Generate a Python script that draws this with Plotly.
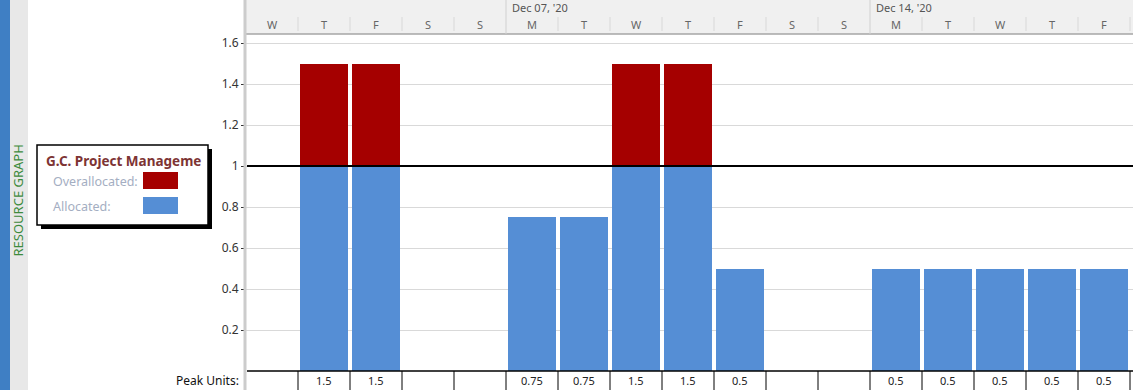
import plotly.graph_objects as go

# ---- data ----
day_labels = ["W", "T", "F", "S", "S", "M", "T", "W", "T", "F", "S", "S", "M", "T", "W", "T", "F"]
allocated = [0, 1, 1, 0, 0, 0.75, 0.75, 1, 1, 0.5, 0, 0, 0.5, 0.5, 0.5, 0.5, 0.5]
overallocated = [0, 0.5, 0.5, 0, 0, 0, 0, 0.5, 0.5, 0, 0, 0, 0, 0, 0, 0, 0]
month_labels = ["Dec 07, '20", "Dec 14, '20"]
month_start_index = [5, 12]
y_tick_vals = [0.2, 0.4, 0.6, 0.8, 1.0, 1.2, 1.4, 1.6]
y_tick_text = ["0.2", "0.4", "0.6", "0.8", "1", "1.2", "1.4", "1.6"]
max_units = 1.0
resource_name = "G.C. Project Manageme"

# ---- style ----
W, H = 1133, 390
RED = "#a50000"
BLUE = "#558ed5"
FONT = "Noto Sans"


def px(x):
    return x / W


def py(y):
    return 1 - y / H


def txt(text, x, y, xref="paper", xanchor="center", size=12, color="#333333", **kw):
    d = dict(text=text, xref=xref, yref="paper", x=x, y=y, xanchor=xanchor, yanchor="middle",
             showarrow=False, font=dict(family=FONT, size=size, color=color))
    d.update(kw)
    return d


n = len(day_labels)
centers = [i + 0.5 for i in range(n)]
peak = [a + o for a, o in zip(allocated, overallocated)]

fig = go.Figure()
fig.add_trace(go.Bar(x=centers, y=allocated, width=0.94, marker=dict(color=BLUE, line=dict(width=0)),
                     name="Allocated", hoverinfo="skip"))
fig.add_trace(go.Bar(x=centers, y=overallocated, width=0.94, marker=dict(color=RED, line=dict(width=0)),
                     name="Overallocated", hoverinfo="skip"))

shapes = []
annotations = []

# left strips
shapes.append(dict(type="rect", xref="paper", yref="paper", x0=0, x1=px(10), y0=0, y1=1,
                   fillcolor="#3f7fc4", line=dict(width=0), layer="below"))
shapes.append(dict(type="rect", xref="paper", yref="paper", x0=px(10), x1=px(28), y0=0, y1=1,
                   fillcolor="#e8e8e8", line=dict(width=0), layer="below"))
annotations.append(txt("RESOURCE GRAPH", px(17.5), py(201), size=13, color="#3d8b3d", textangle=-90))

# header
shapes.append(dict(type="rect", xref="paper", yref="paper", x0=px(246), x1=1, y0=py(34), y1=1,
                   fillcolor="#f0f0f0", line=dict(width=0)))
shapes.append(dict(type="line", xref="paper", yref="paper", x0=px(246), x1=1, y0=py(34), y1=py(34),
                   line=dict(color="#a6a6a6", width=1.5)))
for i in range(1, n + 1):
    if i in month_start_index:
        shapes.append(dict(type="line", xref="x", yref="paper", x0=i, x1=i, y0=py(34), y1=1,
                           line=dict(color="#d0d0d0", width=1)))
    else:
        shapes.append(dict(type="line", xref="x", yref="paper", x0=i, x1=i, y0=py(31), y1=py(17),
                           line=dict(color="#d8d8d8", width=1)))
for i, lab in enumerate(day_labels):
    annotations.append(txt(lab, i + 0.5, py(24), xref="x", size=11, color="#666666"))
for lab, idx in zip(month_labels, month_start_index):
    annotations.append(txt(lab, idx, py(7), xref="x", xanchor="left", size=11, color="#555555", xshift=4))

# left separator of the graph area
shapes.append(dict(type="line", xref="paper", yref="paper", x0=px(245), x1=px(245), y0=0, y1=1,
                   line=dict(color="#cccccc", width=3)))

# max units line
shapes.append(dict(type="line", xref="paper", yref="y", x0=px(247), x1=1, y0=max_units, y1=max_units,
                   line=dict(color="black", width=2), layer="above"))

# peak units row
shapes.append(dict(type="line", xref="paper", yref="paper", x0=px(247), x1=1, y0=py(371), y1=py(371),
                   line=dict(color="black", width=1.5)))
for i in range(1, n + 1):
    shapes.append(dict(type="line", xref="x", yref="paper", x0=i, x1=i, y0=0, y1=py(371),
                       line=dict(color="black", width=1)))
annotations.append(txt("Peak Units:", px(241), py(380), xanchor="right", size=12, color="#111111"))
for c, v in zip(centers, peak):
    if v > 0:
        annotations.append(txt(f"{v:g}", c, py(380), xref="x", size=11, color="#222222"))

# legend box
shapes.append(dict(type="rect", xref="paper", yref="paper", x0=px(41), x1=px(212), y0=py(229), y1=py(149),
                   fillcolor="black", line=dict(width=0)))
shapes.append(dict(type="rect", xref="paper", yref="paper", x0=px(37), x1=px(208), y0=py(225), y1=py(145),
                   fillcolor="white", line=dict(color="black", width=1.5)))
shapes.append(dict(type="rect", xref="paper", yref="paper", x0=px(143), x1=px(178), y0=py(189), y1=py(172),
                   fillcolor=RED, line=dict(width=0)))
shapes.append(dict(type="rect", xref="paper", yref="paper", x0=px(143), x1=px(178), y0=py(214), y1=py(197),
                   fillcolor=BLUE, line=dict(width=0)))
annotations.append(txt("<b>" + resource_name + "</b>", px(44), py(161), xanchor="left", size=13.5,
                       color="#7d3434"))
annotations.append(txt("Overallocated:", px(51), py(181), xanchor="left", size=12.5, color="#a4aec2"))
annotations.append(txt("Allocated:", px(51), py(206), xanchor="left", size=12.5, color="#a4aec2"))

fig.update_layout(
    width=W, height=H, autosize=False,
    margin=dict(l=0, r=0, t=0, b=0),
    paper_bgcolor="white", plot_bgcolor="white",
    barmode="stack", bargap=0, showlegend=False,
    shapes=shapes, annotations=annotations,
    xaxis=dict(domain=[px(246), 1], range=[0, (W - 246) / 52], showticklabels=False, showgrid=False,
               zeroline=False, showline=False, ticks="", fixedrange=True),
    yaxis=dict(domain=[py(371), py(34)], range=[0, 337 / 205], tickvals=y_tick_vals, ticktext=y_tick_text,
               showgrid=True, gridcolor="#d9d9d9", gridwidth=1, zeroline=False, showline=False,
               ticks="outside", ticklen=4, tickcolor="#333333", tickwidth=1,
               tickfont=dict(family=FONT, size=12, color="#333333"), fixedrange=True),
)

fig.write_html("out.html", config={"displayModeBar": False},
               post_script="document.body.style.margin='0';document.body.style.padding='0';")
